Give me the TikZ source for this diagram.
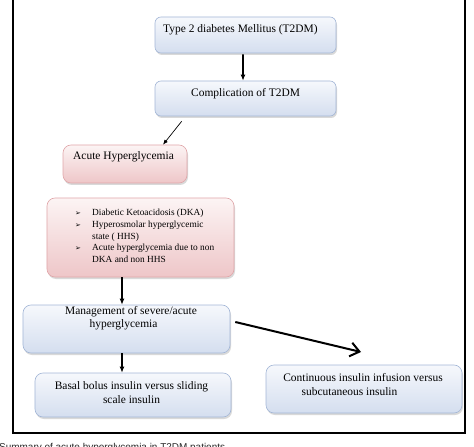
\documentclass[tikz,border=0pt]{standalone}
\usepackage{fontspec}
\setmainfont{Liberation Serif}
\newfontfamily\capfont{Liberation Sans}
\newfontfamily\dejavu{DejaVu Sans}
\usetikzlibrary{arrows.meta,shadows,calc}
\definecolor{bluetop}{HTML}{F6F8FC}
\definecolor{bluebot}{HTML}{D4DEEF}
\definecolor{blueedge}{HTML}{A3B6D6}
\definecolor{pinktop}{HTML}{FCF4F4}
\definecolor{pinkbot}{HTML}{EEC6C8}
\definecolor{pinkedge}{HTML}{E0A6A9}
\newcommand{\bul}{\makebox[17bp][l]{\dejavu\fontsize{7}{7}\selectfont ➢}}
\begin{document}
\begin{tikzpicture}[x=1bp,y=-1bp,
  boxbase/.style={rectangle, inner sep=0pt, line width=0.6bp,
    drop shadow={shadow xshift=1bp, shadow yshift=-2bp, opacity=0.3, fill=gray}},
  bluebox/.style={boxbase, rounded corners=6bp, draw=blueedge, top color=bluetop, bottom color=bluebot},
  pinkbox/.style={boxbase, rounded corners=8bp, draw=pinkedge, top color=pinktop, bottom color=pinkbot},
  txt/.style={inner sep=0pt, font=\fontsize{11.5}{13.5}\selectfont},
  arr/.style={-{Latex[length=6bp,width=5bp]}, line width=1.3bp},
  thinarr/.style={-{Latex[length=5bp,width=4bp]}, line width=0.7bp},
  bigarr/.style={-{Straight Barb[length=9bp,width=14bp]}, line width=2bp}
]
\clip (0,0) rectangle (474,447);
% frame
\draw[line width=2bp] (13,-10) rectangle (465,433);

% boxes
\node[bluebox, minimum width=181bp, minimum height=36bp] (t2) at (245.5,35) {};
\node[bluebox, minimum width=181bp, minimum height=35bp] (comp) at (245.5,98.5) {};
\node[pinkbox, minimum width=124bp, minimum height=38bp] (acute) at (125,164) {};
\node[pinkbox, minimum width=187bp, minimum height=79bp] (list) at (140.5,237.5) {};
\node[bluebox, rounded corners=8bp, minimum width=207bp, minimum height=48bp] (mgmt) at (126.5,329) {};
\node[bluebox, rounded corners=8bp, minimum width=196bp, minimum height=44bp] (basal) at (133,395) {};
\node[bluebox, rounded corners=8bp, minimum width=196bp, minimum height=48bp] (cont) at (364,389) {};

% texts
\node[txt, anchor=base west] (t2t) at (163,33) {Type 2 diabetes Mellitus (T2DM)};
\node[txt, anchor=base west] (compt) at (191,97) {Complication of T2DM};
\node[txt, anchor=base west] (acutet) at (73,160) {Acute Hyperglycemia};
\node[inner sep=0pt, anchor=base west] (listt) at (75,216) {\fontsize{9.4}{11.7}\selectfont
  \begin{tabular}[t]{@{}l@{}}
  \bul Diabetic Ketoacidosis (DKA)\\
  \bul Hyperosmolar hyperglycemic\\
  \hspace{17bp}state ( HHS)\\
  \bul Acute hyperglycemia due to non\\
  \hspace{17bp}DKA and non HHS
  \end{tabular}};
\node[txt, anchor=base] (mgmt1) at (131,314) {Management of severe/acute};
\node[txt, anchor=base] (mgmt2) at (123.5,327) {hyperglycemia};
\node[txt, anchor=base] (basal1) at (131.5,389) {Basal bolus insulin versus sliding};
\node[txt, anchor=base] (basal2) at (131.5,403) {scale insulin};
\node[txt, anchor=base] (cont1) at (363,381.5) {Continuous insulin infusion versus};
\node[txt, anchor=base] (cont2) at (349.5,395) {subcutaneous insulin};

% caption (cut by the page edge, as in the reference)
\node[inner sep=0pt, anchor=base west, font=\capfont\fontsize{10}{12}\selectfont, text=black!85] (cap) at (-1,450) {Summary of acute hyperglycemia in T2DM patients};

% connectors
\coordinate (ax) at (122,0);
\coordinate (cend) at (361,352);
\draw[arr, line width=1.8bp] ([xshift=-2.5bp,yshift=-1bp]t2.south) -- (comp.north -| 243,0);
\draw[thinarr] ($(comp.south west)+(27,5)$) -- ($(acute.north)+(38,0)$);
\draw[arr, line width=1.1bp] (list.south -| ax) -- (mgmt.north -| ax);
\draw[arr, line width=1.4bp] (mgmt.south -| ax) -- (basal.north -| ax);
\draw[bigarr] ($(mgmt.east)+(5,-7)$) -- (cend);
\end{tikzpicture}
\end{document}
